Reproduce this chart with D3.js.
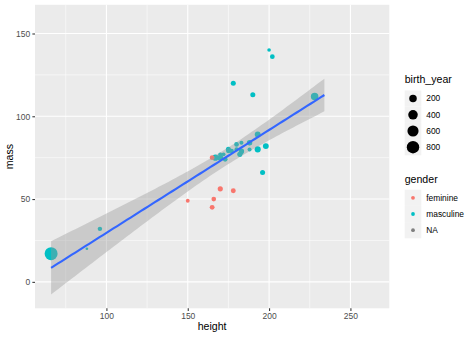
<!DOCTYPE html>
<html><head><meta charset="utf-8">
<script src="https://cdn.jsdelivr.net/npm/d3@7"></script>
<style>body{margin:0;background:#fff}svg{display:block;font-family:"Liberation Sans",Arial,sans-serif}</style>
</head><body><svg id="c" width="474" height="338"></svg>
<script>
// starwars characters (height, mass, birth_year, gender); Jabba excluded
const names = ["Luke Skywalker","C-3PO","R2-D2","Darth Vader","Leia Organa","Owen Lars","Beru Whitesun Lars","R5-D4","Biggs Darklighter","Obi-Wan Kenobi","Anakin Skywalker","Chewbacca","Han Solo","Greedo","Wedge Antilles","Jek Tono Porkins","Yoda","Palpatine","Boba Fett","IG-88","Bossk","Lando Calrissian","Lobot","Ackbar","Wicket Systri Warrick","Nien Nunb","Qui-Gon Jinn","Nute Gunray","Padmé Amidala","Jar Jar Binks","Roos Tarpals","Sebulba","Darth Maul","Ayla Secura","Ratts Tyerell","Dud Bolt","Ben Quadinaros","Mace Windu","Ki-Adi-Mundi","Kit Fisto","Adi Gallia","Plo Koon","Gregar Typho","Poggle the Lesser","Luminara Unduli","Barriss Offee","Dooku","Jango Fett","Zam Wesell","Dexter Jettster","Lama Su","Wat Tambor","Shaak Ti","Grievous","Tarfful","Raymus Antilles","Sly Moore","Tion Medon","Yarael Poof"];
const height = [172,167,96,202,150,178,165,97,183,182,188,228,180,173,170,180,66,170,183,200,190,177,175,180,88,160,193,191,165,196,224,112,175,178,79,94,163,188,198,196,184,188,185,183,170,166,193,183,168,198,229,193,178,216,234,188,178,206,264];
const mass = [77,75,32,136,49,120,75,32,84,77,84,112,80,74,77,110,17,75,78.2,140,113,79,79,83,20,68,89,90,45,66,82,40,80,55,15,45,65,84,82,87,50,80,85,80,56.2,50,80,79,55,102,88,48,57,159,136,79,48,80,null];
const birthYear = [19,112,33,41.9,19,52,47,null,24,57,41.9,200,29,44,21,null,896,82,31.5,15,53,31,37,41,8,null,92,null,46,52,null,null,54,48,null,null,null,72,92,null,null,22,null,null,58,40,102,66,null,null,null,null,null,null,null,null,null,null,null];
const gender = ["masculine","masculine","masculine","masculine","feminine","masculine","feminine","masculine","masculine","masculine","masculine","masculine","masculine","masculine","masculine","masculine","masculine","masculine","masculine","masculine","masculine","masculine","masculine","masculine","masculine","masculine","masculine","masculine","feminine","masculine","masculine","masculine","masculine","feminine","masculine","masculine","masculine","masculine","masculine","masculine","feminine","masculine","masculine","masculine","feminine","feminine","masculine","masculine","feminine","masculine","masculine","masculine","feminine","masculine","masculine","masculine",null,"masculine","masculine"];

const xTicks = [100,150,200,250];
const xMinor = [75,125,175,225];
const yTicks = [0,50,100,150];
const yMinor = [25,75,125];
const sizeBreaks = [200,400,600,800];
const genderLevels = ["feminine","masculine","NA"];
const genderColors = ["#F8766D","#00BFC4","#7F7F7F"];

const rows = names.map((n,i)=>({name:n,h:height[i],m:mass[i],by:birthYear[i],g:gender[i]==null?"NA":gender[i]}));

// linear model on rows with height & mass
const fitRows = rows.filter(r=>r.h!=null && r.m!=null);
const n = fitRows.length;
const xbar = d3.mean(fitRows,r=>r.h), ybar = d3.mean(fitRows,r=>r.m);
const Sxx = d3.sum(fitRows,r=>(r.h-xbar)**2), Sxy = d3.sum(fitRows,r=>(r.h-xbar)*(r.m-ybar));
const b1 = Sxy/Sxx, b0 = ybar-b1*xbar;
const rss = d3.sum(fitRows,r=>(r.m-b0-b1*r.h)**2);
const sigma2 = rss/(n-2);
const df = n-2, z = 1.959964;
const tq = z + (z**3+z)/(4*df) + (5*z**5+16*z**3+3*z)/(96*df*df) + (3*z**7+19*z**5+17*z**3-15*z)/(384*df**3);
const [hx0,hx1] = d3.extent(fitRows,r=>r.h);
const grid = d3.range(80).map(i=>{
  const x = hx0+(hx1-hx0)*i/79;
  const y = b0+b1*x;
  const se = Math.sqrt(sigma2*(1/n+(x-xbar)**2/Sxx));
  return {x,y,lo:y-tq*se,hi:y+tq*se};
});

const s = 0.96;
const L=35, R=389.3, T=4.8, B=308.3;
const xe = d3.extent(rows,r=>r.h);
const ylo = Math.min(d3.min(rows,r=>r.m), d3.min(grid,d=>d.lo));
const yhi = Math.max(d3.max(rows,r=>r.m), d3.max(grid,d=>d.hi));
const xpad=(xe[1]-xe[0])*0.05, ypad=(yhi-ylo)*0.05;
const x = d3.scaleLinear().domain([xe[0]-xpad,xe[1]+xpad]).range([L,R]);
const y = d3.scaleLinear().domain([ylo-ypad,yhi+ypad]).range([B,T]);

const byExt = d3.extent(rows,r=>r.by);
const sizeScale = v => 1+5*Math.sqrt((v-byExt[0])/(byExt[1]-byExt[0]));
const radius = sz => s*0.75*(sz*72.27/25.4+0.5*96/25.4/2)/2;
const color = d3.scaleOrdinal().domain(genderLevels).range(genderColors);

const svg = d3.select("#c");
svg.append("rect").attr("width",474).attr("height",338).attr("fill","#fff");
svg.append("rect").attr("x",L).attr("y",T).attr("width",R-L).attr("height",B-T).attr("fill","#EBEBEB");

const gg = svg.append("g");
xMinor.forEach(v=>gg.append("line").attr("x1",x(v)).attr("x2",x(v)).attr("y1",T).attr("y2",B).attr("stroke","#fff").attr("stroke-width",0.55));
yMinor.forEach(v=>gg.append("line").attr("y1",y(v)).attr("y2",y(v)).attr("x1",L).attr("x2",R).attr("stroke","#fff").attr("stroke-width",0.55));
xTicks.forEach(v=>gg.append("line").attr("x1",x(v)).attr("x2",x(v)).attr("y1",T).attr("y2",B).attr("stroke","#fff").attr("stroke-width",1.1));
yTicks.forEach(v=>gg.append("line").attr("y1",y(v)).attr("y2",y(v)).attr("x1",L).attr("x2",R).attr("stroke","#fff").attr("stroke-width",1.1));

// points
const pts = rows.filter(r=>r.m!=null && r.by!=null);
svg.append("g").selectAll("circle").data(pts).join("circle")
  .attr("cx",d=>x(d.h)).attr("cy",d=>y(d.m)).attr("r",d=>radius(sizeScale(d.by)))
  .attr("fill",d=>color(d.g));

// smooth
svg.append("path").datum(grid)
  .attr("d",d3.area().x(d=>x(d.x)).y0(d=>y(d.lo)).y1(d=>y(d.hi)))
  .attr("fill","#999999").attr("fill-opacity",0.4);
svg.append("path").datum(grid)
  .attr("d",d3.line().x(d=>x(d.x)).y(d=>y(d.y)))
  .attr("fill","none").attr("stroke","#3366FF").attr("stroke-width",2.1);

// axes
const xAxis = svg.append("g").attr("transform",`translate(0,${B})`)
  .call(d3.axisBottom(x).tickValues(xTicks).tickSize(2.64).tickPadding(2.2).tickFormat(d3.format("d")));
const yAxis = svg.append("g").attr("transform",`translate(${L},0)`)
  .call(d3.axisLeft(y).tickValues(yTicks).tickSize(2.64).tickPadding(2.2).tickFormat(d3.format("d")));
[xAxis,yAxis].forEach(a=>{
  a.select(".domain").remove();
  a.selectAll(".tick line").attr("stroke","#333333").attr("stroke-width",1.05);
  a.selectAll(".tick text").attr("fill","#4D4D4D").attr("font-size",8.5).attr("font-family",null);
});
xAxis.selectAll(".tick text").attr("dy",null).attr("y",null).attr("dominant-baseline",null)
  .each(function(){d3.select(this).attr("y",11.2);});
yAxis.selectAll(".tick text").attr("dy","0.34em");

svg.append("text").attr("x",(L+R)/2).attr("y",330.2).attr("text-anchor","middle").attr("font-size",10.6).attr("fill","#000").text("height");
svg.append("text").attr("transform",`translate(12.8,${(T+B)/2}) rotate(-90)`).attr("text-anchor","middle").attr("font-size",10.6).attr("fill","#000").text("mass");

// legends
const lx = 404.7, kw = 16.6, kh = 16.2;
const lg = svg.append("g");
lg.append("text").attr("x",lx).attr("y",83).attr("font-size",10.6).text("birth_year");
sizeBreaks.forEach((v,i)=>{
  const ky = 90.5+i*kh;
  lg.append("rect").attr("x",lx).attr("y",ky).attr("width",kw).attr("height",kh).attr("fill","#F2F2F2");
});
sizeBreaks.forEach((v,i)=>{
  const cy = 90.5+i*kh+kh/2;
  lg.append("circle").attr("cx",lx+kw/2).attr("cy",cy).attr("r",radius(sizeScale(v))).attr("fill","#000");
  lg.append("text").attr("x",426.3).attr("y",cy).attr("dy","0.34em").attr("font-size",8.4).attr("fill","#000").text(v);
});
lg.append("text").attr("x",lx).attr("y",182.6).attr("font-size",10.6).text("gender");
genderLevels.forEach((g,i)=>{
  const ky = 189.7+i*kh;
  lg.append("rect").attr("x",lx).attr("y",ky).attr("width",kw).attr("height",kh).attr("fill","#F2F2F2");
  lg.append("circle").attr("cx",lx+kw/2).attr("cy",ky+kh/2).attr("r",radius(1.5)).attr("fill",genderColors[i]);
  lg.append("text").attr("x",426.3).attr("y",ky+kh/2).attr("dy","0.34em").attr("font-size",8.4).attr("fill","#000").text(g);
});
</script></body></html>
